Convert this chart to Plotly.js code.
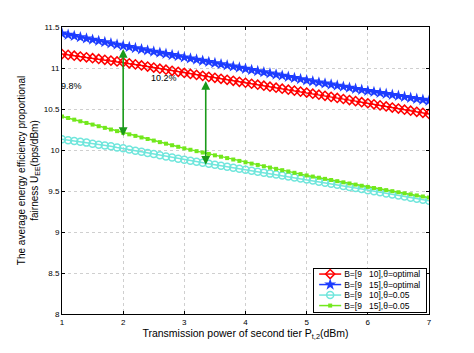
<!DOCTYPE html>
<html><head><meta charset="utf-8">
<script src="https://cdn.plot.ly/plotly-3.0.1.min.js"></script>
<style>html,body{margin:0;padding:0;background:#fff}</style>
</head><body><div id="chart" style="width:474px;height:353px"></div>
<script>
const xVals = [1.0,1.1,1.2,1.3,1.4,1.5,1.6,1.7,1.8,1.9,2.0,2.1,2.2,2.3,2.4,2.5,2.6,2.7,2.8,2.9,3.0,3.1,3.2,3.3,3.4,3.5,3.6,3.7,3.8,3.9,4.0,4.1,4.2,4.3,4.4,4.5,4.6,4.7,4.8,4.9,5.0,5.1,5.2,5.3,5.4,5.5,5.6,5.7,5.8,5.9,6.0,6.1,6.2,6.3,6.4,6.5,6.6,6.7,6.8,6.9,7.0];
const redOpt = [11.17,11.16,11.15,11.14,11.13,11.12,11.11,11.10,11.09,11.08,11.07,
 11.057,11.044,11.031,11.018,11.005,10.992,10.979,10.966,10.953,10.94,
 10.928,10.916,10.904,10.892,10.88,10.868,10.856,10.844,10.832,10.82,
 10.808,10.796,10.784,10.772,10.76,10.748,10.736,10.724,10.712,10.70,
 10.687,10.674,10.661,10.648,10.635,10.622,10.609,10.596,10.583,10.57,
 10.557,10.544,10.531,10.518,10.505,10.492,10.479,10.466,10.453,10.44];
const blueOpt = [11.42,11.405,11.39,11.375,11.36,11.345,11.33,11.315,11.30,11.285,11.27,
 11.256,11.242,11.228,11.214,11.20,11.186,11.172,11.158,11.144,11.13,
 11.116,11.102,11.088,11.074,11.06,11.046,11.032,11.018,11.004,10.99,
 10.976,10.962,10.948,10.934,10.92,10.906,10.892,10.878,10.864,10.85,
 10.837,10.824,10.811,10.798,10.785,10.772,10.759,10.746,10.733,10.72,
 10.708,10.696,10.684,10.672,10.66,10.648,10.636,10.624,10.612,10.60];
const cyan005 = [10.13,10.12,10.11,10.10,10.09,10.075,10.065,10.055,10.045,10.03,10.02,
 10.006,9.992,9.978,9.964,9.95,9.936,9.922,9.908,9.894,9.88,
 9.868,9.856,9.844,9.832,9.82,9.808,9.796,9.784,9.772,9.76,
 9.748,9.736,9.724,9.712,9.70,9.688,9.676,9.664,9.652,9.64,
 9.627,9.614,9.601,9.588,9.575,9.562,9.549,9.536,9.523,9.51,
 9.497,9.484,9.471,9.458,9.445,9.432,9.419,9.406,9.393,9.38];
const green005 = [10.41,10.39,10.37,10.35,10.33,10.31,10.29,10.27,10.25,10.23,10.21,
 10.191,10.172,10.153,10.134,10.115,10.096,10.077,10.058,10.039,10.02,
 10.003,9.986,9.969,9.952,9.935,9.918,9.901,9.884,9.867,9.85,
 9.834,9.818,9.802,9.786,9.77,9.754,9.738,9.722,9.706,9.69,
 9.676,9.662,9.648,9.634,9.62,9.606,9.592,9.578,9.564,9.55,
 9.537,9.524,9.511,9.498,9.485,9.472,9.459,9.446,9.433,9.42];
const seriesNames = ['B=[9   10],θ=optimal','B=[9   15],θ=optimal','B=[9   10],θ=0.05','B=[9   15],θ=0.05'];
const xTicks = [1,2,3,4,5,6,7];
const yTicks = [8,8.5,9,9.5,10,10.5,11,11.5];
const yTickLabels = ['8','8.5','9','9.5','10','10.5','11','11.5'];
// gap arrows: [x, yTop, yBottom]
const arrow1 = [2, 11.25, 10.17];
const arrow2 = [3.35, 10.86, 9.82];
const labels = [{x:1.16, y:10.78, text:'9.8%'},{x:2.67, y:10.88, text:'10.2%'}];

const FONT = 'Liberation Sans, Arial, Helvetica, sans-serif';
const traces = [
 {x:xVals, y:redOpt, name:seriesNames[0], mode:'lines+markers', line:{color:'#ff0000',width:1.5},
  marker:{symbol:'diamond-open',size:7,color:'#ff0000',line:{width:1.5,color:'#ff0000'}}},
 {x:xVals, y:blueOpt, name:seriesNames[1], mode:'lines+markers', line:{color:'#1d3cff',width:1.5},
  marker:{symbol:'star',size:9,color:'#1d3cff'}},
 {x:xVals, y:cyan005, name:seriesNames[2], mode:'lines+markers', line:{color:'#70e6dc',width:1.5},
  marker:{symbol:'circle-open',size:7,color:'#70e6dc',line:{width:1.5,color:'#70e6dc'}}},
 {x:xVals, y:green005, name:seriesNames[3], mode:'lines+markers', line:{color:'#72e81c',width:1.5},
  marker:{symbol:'square',size:4,color:'#72e81c'}}
];
const ann = [];
[arrow1, arrow2].forEach(a=>{
  ann.push({x:a[0], y:a[2], ax:a[0], ay:a[1], xref:'x', yref:'y', axref:'x', ayref:'y',
    showarrow:true, arrowhead:2, startarrowhead:2, arrowside:'end+start', arrowsize:1.1, arrowwidth:1.6,
    arrowcolor:'#1a9a1a', text:''});
});
labels.forEach(l=>ann.push({x:l.x, y:l.y, xref:'x', yref:'y', text:l.text, showarrow:false,
  font:{family:FONT, size:9, color:'#000'}}));

const axCommon = {showline:true, linecolor:'#000', linewidth:1, mirror:'ticks', ticks:'inside', ticklen:3,
  tickcolor:'#000', showgrid:true, gridcolor:'#cfcfcf', griddash:'dot', gridwidth:1, zeroline:false,
  tickfont:{family:FONT, size:8, color:'#000'}};
const layout = {
  width:474, height:353, margin:{l:62, r:45, t:27, b:39}, paper_bgcolor:'#fff', plot_bgcolor:'#fff',
  showlegend:true,
  xaxis:Object.assign({}, axCommon, {range:[1,7], tickvals:xTicks, ticktext:xTicks.map(String),
    title:{text:'Transmission power of second tier P<sub>t,2</sub>(dBm)', standoff:1,
      font:{family:FONT, size:10.5, color:'#000'}}}),
  yaxis:Object.assign({}, axCommon, {range:[8,11.5], tickvals:yTicks, ticktext:yTickLabels,
    title:{text:'The average energy efficiency proportional<br>fairness U<sub>EE</sub>(bps/dBm)', standoff:3,
      font:{family:FONT, size:10, color:'#000'}}}),
  legend:{x:0.995, y:0.005, xanchor:'right', yanchor:'bottom', bgcolor:'#fff', bordercolor:'#000', borderwidth:1,
    font:{family:FONT, size:8.5, color:'#000'}, tracegroupgap:0, itemwidth:30},
  annotations:ann
};
const gd = document.getElementById('chart');
Plotly.newPlot(gd, traces, layout, {displayModeBar:false, staticPlot:true}).then(()=>{
  // compact the legend rows and samples to match the reference's tight legend
  const leg = gd.querySelector('g.legend');
  if(!leg) return;
  const items = leg.querySelectorAll('g.traces');
  const rowH = 10.5, first = 6, shrinkW = 10;
  items.forEach((g,i)=>{
    const m = /translate\(([^,\s]+)[,\s]+([^)]+)\)/.exec(g.getAttribute('transform')||'');
    const tx = m ? m[1] : 0;
    g.setAttribute('transform', 'translate(' + tx + ',' + (first + i*rowH) + ')');
    g.querySelectorAll('.legendlines path').forEach(p=>p.setAttribute('d','M5,0h22'));
    g.querySelectorAll('.legendpoints path').forEach(p=>p.setAttribute('transform','translate(16,0)'));
    const t = g.querySelector('text.legendtext');
    if(t){ const x0 = parseFloat(t.getAttribute('x')||'40'); t.setAttribute('x', x0 - shrinkW);
      t.querySelectorAll('tspan[x]').forEach(s=>s.setAttribute('x', parseFloat(s.getAttribute('x')) - shrinkW)); }
  });
  const H = first*2 + rowH*(items.length-1);
  const bg = leg.querySelector('rect.bg');
  const oldH = bg ? parseFloat(bg.getAttribute('height')) : H;
  const oldW = bg ? parseFloat(bg.getAttribute('width')) : 0;
  if(bg){ bg.setAttribute('height', H); bg.setAttribute('width', oldW - shrinkW); }
  const sb = leg.querySelector('.scrollbox');
  if(sb) sb.removeAttribute('clip-path');
  const m = /translate\(([^,\s]+)[,\s]+([^)]+)\)/.exec(leg.getAttribute('transform')||'');
  if(m) leg.setAttribute('transform', 'translate(' + (parseFloat(m[1]) + shrinkW) + ',' + (parseFloat(m[2]) + oldH - H) + ')');
});
</script></body></html>
